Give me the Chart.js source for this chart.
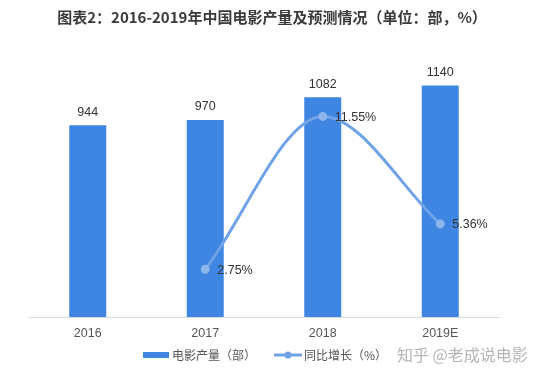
<!DOCTYPE html>
<html><head><meta charset="utf-8">
<script src="https://cdn.jsdelivr.net/npm/chart.js@4"></script>
<style>html,body{margin:0;padding:0;background:#fff}#wrap{width:545px;height:390px;position:relative}</style>
</head><body><div id="wrap"><canvas id="c" width="545" height="390"></canvas></div>
<script>
const titleText = '图表2：2016-2019年中国电影产量及预测情况（单位：部，%）';
const categories = ['2016', '2017', '2018', '2019E'];
const production = [944, 970, 1082, 1140];
const growth = [null, 2.75, 11.55, 5.36];
const seriesNames = ['电影产量（部）', '同比增长（%）'];
const watermark = '知乎 @老成说电影';

const BAR = '#3F86E2', LINE = '#6FA2E6';
const cjk = '"Noto Sans CJK SC", sans-serif';
const lat = '"Liberation Sans", Arial, sans-serif';

const overlay = {
  id: 'overlay',
  afterDraw(chart) {
    const ctx = chart.ctx;
    ctx.save();
    // title
    ctx.fillStyle = '#3a3a3a';
    ctx.font = 'bold 15px ' + cjk;
    ctx.textAlign = 'center'; ctx.textBaseline = 'middle';
    ctx.fillText(titleText, 272, 17);
    // bar labels
    const m0 = chart.getDatasetMeta(0);
    ctx.font = '12.5px ' + lat; ctx.fillStyle = '#333';
    m0.data.forEach((b, i) => { ctx.fillText(String(production[i]), b.x, b.y - 13); });
    // line labels
    const m1 = chart.getDatasetMeta(1);
    ctx.textAlign = 'left';
    m1.data.forEach((p, i) => { if (growth[i] == null) return; ctx.fillText(growth[i].toFixed(2) + '%', p.x + 12, p.y + 1); });
    // legend
    const ly = 355;
    ctx.fillStyle = BAR; ctx.fillRect(143, ly - 3, 26, 6);
    ctx.font = '12px ' + cjk; ctx.fillStyle = '#555'; ctx.textBaseline = 'middle';
    ctx.fillText(seriesNames[0], 172, ly);
    ctx.strokeStyle = LINE; ctx.lineWidth = 3;
    ctx.beginPath(); ctx.moveTo(274, ly); ctx.lineTo(302, ly); ctx.stroke();
    ctx.fillStyle = LINE; ctx.beginPath(); ctx.arc(288, ly, 3.5, 0, Math.PI * 2); ctx.fill();
    ctx.fillStyle = '#555'; ctx.fillText(seriesNames[1], 304, ly);
    // watermark
    ctx.font = '16px ' + cjk; ctx.fillStyle = '#b5b5b5';
    ctx.fillText(watermark, 397, ly);
    ctx.restore();
  }
};

new Chart(document.getElementById('c'), {
  data: {
    labels: categories,
    datasets: [
      { type: 'bar', label: seriesNames[0], data: production, backgroundColor: BAR, yAxisID: 'y', barPercentage: 0.63, categoryPercentage: 0.5, order: 2 },
      { type: 'line', label: seriesNames[1], data: growth, yAxisID: 'y2', borderColor: LINE, borderWidth: 3,
        pointRadius: 3, pointBackgroundColor: '#8DB6EC', pointBorderColor: '#8DB6EC', cubicInterpolationMode: 'monotone', order: 1 }
    ]
  },
  options: {
    responsive: false, animation: false, maintainAspectRatio: false,
    layout: { padding: { left: 29, right: 46, top: 53, bottom: 40 } },
    plugins: { legend: { display: false }, tooltip: { enabled: false }, title: { display: false } },
    scales: {
      x: { grid: { display: false, drawTicks: false }, border: { display: true, color: '#d9d9d9', width: 1 },
           ticks: { color: '#555', padding: 9, font: { family: lat, size: 12.5 } } },
      y: { display: false, min: 0, max: 1300 },
      y2: { display: false, min: 0, max: 15.2, position: 'right' }
    }
  },
  plugins: [overlay]
});
</script></body></html>
